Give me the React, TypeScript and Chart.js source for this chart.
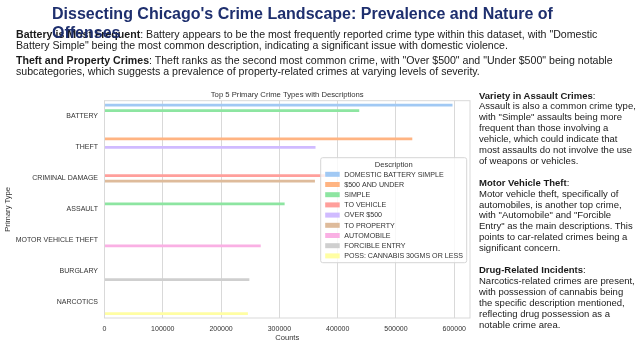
import React, { useEffect, useRef } from "react";
import { Chart, registerables } from "chart.js";

Chart.register(...registerables);

const CATEGORIES = ["BATTERY", "THEFT", "CRIMINAL DAMAGE", "ASSAULT", "MOTOR VEHICLE THEFT", "BURGLARY", "NARCOTICS"];
const DESCRIPTIONS = [
  "DOMESTIC BATTERY SIMPLE",
  "$500 AND UNDER",
  "SIMPLE",
  "TO VEHICLE",
  "OVER $500",
  "TO PROPERTY",
  "AUTOMOBILE",
  "FORCIBLE ENTRY",
  "POSS: CANNABIS 30GMS OR LESS",
];
const COLORS = ["#a1c9f4", "#ffb482", "#8de5a1", "#ff9f9b", "#d0bbff", "#debb9b", "#fab0e4", "#cfcfcf", "#fffea3"];

const DOMESTIC_BATTERY_SIMPLE = [597000, null, null, null, null, null, null];
const UNDER_500 = [null, 528000, null, null, null, null, null];
const SIMPLE = [437000, null, null, 309000, null, null, null];
const TO_VEHICLE = [null, null, 378000, null, null, null, null];
const OVER_500 = [null, 362000, null, null, null, null, null];
const TO_PROPERTY = [null, null, 361000, null, null, null, null];
const AUTOMOBILE = [null, null, null, null, 268000, null, null];
const FORCIBLE_ENTRY = [null, null, null, null, null, 248500, null];
const POSS_CANNABIS = [null, null, null, null, null, null, 246000];

const SERIES = [DOMESTIC_BATTERY_SIMPLE, UNDER_500, SIMPLE, TO_VEHICLE, OVER_500, TO_PROPERTY, AUTOMOBILE, FORCIBLE_ENTRY, POSS_CANNABIS];

const X_TICKS = [0, 100000, 200000, 300000, 400000, 500000, 600000];
const X_MAX = 627000;

const CHART_TITLE = "Top 5 Primary Crime Types with Descriptions";
const X_TITLE = "Counts";
const Y_TITLE = "Primary Type";
const LEGEND_TITLE = "Description";

const FONT = '"Liberation Sans", Arial, Helvetica, sans-serif';
const TEXT = "#333333";
const GRID = "#d9d9d9";

const decorPlugin = {
  id: "decor",
  afterDatasetsDraw(chart: any) {
    const { ctx, chartArea: ca } = chart;
    ctx.save();
    ctx.strokeStyle = GRID;
    ctx.lineWidth = 1;
    ctx.strokeRect(ca.left, ca.top, ca.right - ca.left, ca.bottom - ca.top);
    ctx.restore();
  },
  afterDraw(chart: any) {
    const { ctx, chartArea: ca } = chart;
    ctx.save();
    // chart title
    ctx.fillStyle = TEXT;
    ctx.font = `7.7px ${FONT}`;
    ctx.textAlign = "center";
    ctx.textBaseline = "middle";
    ctx.fillText(CHART_TITLE, (ca.left + ca.right) / 2, ca.top - 6);

    // legend
    const lx = ca.right - 149.3;
    const ly = ca.top + 57;
    const lw = 146;
    const lh = 105;
    const r = 2;
    ctx.beginPath();
    ctx.moveTo(lx + r, ly);
    ctx.lineTo(lx + lw - r, ly);
    ctx.quadraticCurveTo(lx + lw, ly, lx + lw, ly + r);
    ctx.lineTo(lx + lw, ly + lh - r);
    ctx.quadraticCurveTo(lx + lw, ly + lh, lx + lw - r, ly + lh);
    ctx.lineTo(lx + r, ly + lh);
    ctx.quadraticCurveTo(lx, ly + lh, lx, ly + lh - r);
    ctx.lineTo(lx, ly + r);
    ctx.quadraticCurveTo(lx, ly, lx + r, ly);
    ctx.closePath();
    ctx.fillStyle = "rgba(255,255,255,0.8)";
    ctx.fill();
    ctx.strokeStyle = "#d6d6d6";
    ctx.lineWidth = 1;
    ctx.stroke();

    ctx.fillStyle = TEXT;
    ctx.font = `7.6px ${FONT}`;
    ctx.textAlign = "center";
    ctx.fillText(LEGEND_TITLE, lx + lw / 2, ly + 7);

    ctx.font = `7.1px ${FONT}`;
    ctx.textAlign = "left";
    chart.data.datasets.forEach((ds: any, i: number) => {
      const y = ly + 16.6 + i * 10.2;
      ctx.fillStyle = ds.backgroundColor;
      ctx.fillRect(lx + 4.5, y - 2.5, 14.5, 5);
      ctx.fillStyle = TEXT;
      ctx.fillText(ds.label, lx + 23.5, y + 0.3);
    });
    ctx.restore();
  },
};

function ChartView() {
  const ref = useRef<HTMLCanvasElement>(null);
  useEffect(() => {
    if (!ref.current) return;
    const chart = new Chart(ref.current, {
      type: "bar",
      data: {
        labels: CATEGORIES,
        datasets: DESCRIPTIONS.map((d, i) => ({
          label: d,
          data: SERIES[i],
          backgroundColor: COLORS[i],
          borderWidth: 0,
          categoryPercentage: 0.8,
          barPercentage: 1.0,
        })),
      },
      options: {
        indexAxis: "y",
        animation: false,
        responsive: false,
        maintainAspectRatio: false,
        devicePixelRatio: 1,
        layout: { padding: { left: 0, right: 168, top: 100.7, bottom: 0 } },
        plugins: {
          legend: { display: false },
          title: { display: false },
          tooltip: { enabled: false },
        },
        scales: {
          x: {
            type: "linear",
            min: 0,
            max: X_MAX,
            afterBuildTicks: (scale: any) => {
              scale.ticks = X_TICKS.map((v) => ({ value: v }));
            },
            afterFit: (scale: any) => {
              scale.height = 41;
            },
            grid: { color: GRID, lineWidth: 1, drawTicks: false },
            border: { display: false },
            ticks: {
              color: TEXT,
              font: { family: FONT, size: 7 },
              padding: 7,
              maxRotation: 0,
              callback: (v: any) => String(v),
            },
            title: {
              display: true,
              text: X_TITLE,
              color: TEXT,
              font: { family: FONT, size: 7.6 },
              padding: { top: 0, bottom: 17 },
            },
          },
          y: {
            type: "category",
            afterFit: (scale: any) => {
              scale.width = 104.5;
            },
            grid: { display: false, drawTicks: false },
            border: { display: false },
            ticks: {
              color: TEXT,
              font: { family: FONT, size: 7 },
              padding: 6.5,
            },
            title: {
              display: true,
              text: Y_TITLE,
              color: TEXT,
              font: { family: FONT, size: 7.6 },
              padding: { top: 3, bottom: 0 },
            },
          },
        },
      },
      plugins: [decorPlugin],
    } as any);
    return () => chart.destroy();
  }, []);
  return (
    <canvas
      ref={ref}
      width={638}
      height={359}
      style={{ position: "absolute", left: 0, top: 0, width: 638, height: 359 }}
    />
  );
}

const line: React.CSSProperties = { whiteSpace: "nowrap" };

export default function App() {
  return (
    <div
      style={{
        position: "fixed",
        left: 0,
        top: 0,
        width: 638,
        height: 359,
        background: "#ffffff",
        overflow: "hidden",
        fontFamily: FONT,
      }}
    >
      <ChartView />
      <div
        style={{
          position: "absolute",
          left: 16,
          top: 28.5,
          fontSize: 10.6,
          lineHeight: "11px",
          color: "#1a1a1a",
        }}
      >
        <div style={line}>
          <b>Battery is Most Frequent</b>: Battery appears to be the most frequently reported crime type within this dataset, with "Domestic
        </div>
        <div style={line}>Battery Simple" being the most common description, indicating a significant issue with domestic violence.</div>
        <div style={{ ...line, marginTop: 4 }}>
          <b>Theft and Property Crimes</b>: Theft ranks as the second most common crime, with "Over $500" and "Under $500" being notable
        </div>
        <div style={line}>subcategories, which suggests a prevalence of property-related crimes at varying levels of severity.</div>
      </div>
      <div
        style={{
          position: "absolute",
          left: 52,
          top: 4,
          fontSize: 16,
          lineHeight: "19px",
          fontWeight: "bold",
          color: "#1e2f6e",
        }}
      >
        <div style={line}>Dissecting Chicago's Crime Landscape: Prevalence and Nature of</div>
        <div style={line}>Offenses</div>
      </div>
      <div
        style={{
          position: "absolute",
          left: 479,
          top: 90.5,
          fontSize: 9.5,
          lineHeight: "10.9px",
          color: "#1a1a1a",
        }}
      >
        <div style={line}><b>Variety in Assault Crimes</b>:</div>
        <div style={line}>Assault is also a common crime type,</div>
        <div style={line}>with "Simple" assaults being more</div>
        <div style={line}>frequent than those involving a</div>
        <div style={line}>vehicle, which could indicate that</div>
        <div style={line}>most assaults do not involve the use</div>
        <div style={line}>of weapons or vehicles.</div>
        <div style={{ ...line, marginTop: 10.9 }}><b>Motor Vehicle Theft</b>:</div>
        <div style={line}>Motor vehicle theft, specifically of</div>
        <div style={line}>automobiles, is another top crime,</div>
        <div style={line}>with "Automobile" and "Forcible</div>
        <div style={line}>Entry" as the main descriptions. This</div>
        <div style={line}>points to car-related crimes being a</div>
        <div style={line}>significant concern.</div>
        <div style={{ ...line, marginTop: 10.9 }}><b>Drug-Related Incidents</b>:</div>
        <div style={line}>Narcotics-related crimes are present,</div>
        <div style={line}>with possession of cannabis being</div>
        <div style={line}>the specific description mentioned,</div>
        <div style={line}>reflecting drug possession as a</div>
        <div style={line}>notable crime area.</div>
      </div>
    </div>
  );
}
